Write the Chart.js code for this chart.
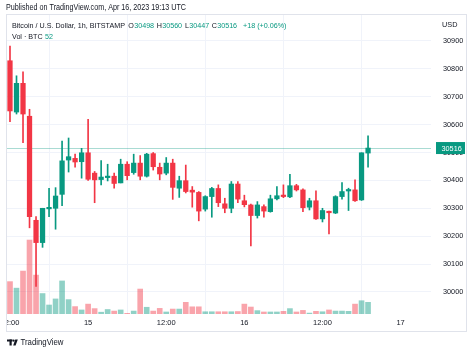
<!DOCTYPE html>
<html><head><meta charset="utf-8">
<script src="https://cdn.jsdelivr.net/npm/chart.js@4.4.0/dist/chart.umd.min.js"></script>
<style>html,body{margin:0;padding:0;background:#fff;}#wrap{width:474px;height:353px;position:relative;overflow:hidden}</style>
</head><body><div id="wrap"><canvas id="c" width="474" height="353"></canvas></div>
<script>
// ---- data (1h candles, Apr 14 12:00 -> Apr 16 19:00) ----
const timeTickIndex = [0, 12, 24, 36, 48, 60];
const timeTickLabels = ["12:00", "15", "12:00", "16", "12:00", "17"];
const priceTicks = [30000, 30100, 30200, 30300, 30400, 30500, 30600, 30700, 30800, 30900];
const opens  = [30829,30645,30748,30630,30257,30177,30298,30300,30350,30473,30479,30467,30499,30426,30403,30410,30415,30391,30458,30428,30462,30415,30496,30447,30426,30462,30372,30399,30365,30357,30297,30342,30371,30316,30300,30387,30327,30312,30274,30306,30288,30334,30345,30341,30381,30366,30304,30327,30262,30288,30283,30342,30362,30366,30330,30498];
const highs  = [30882,30775,30789,30655,30270,30300,30372,30374,30541,30552,30494,30515,30619,30432,30471,30458,30426,30476,30467,30494,30489,30497,30500,30462,30482,30476,30415,30455,30378,30360,30345,30375,30384,30336,30396,30396,30347,30315,30324,30312,30347,30378,30384,30422,30386,30370,30336,30363,30300,30290,30345,30392,30372,30402,30499,30560];
const lows   = [30611,30638,30535,30230,30020,30160,30270,30225,30309,30430,30447,30408,30400,30320,30384,30398,30372,30391,30402,30422,30402,30412,30437,30402,30420,30332,30339,30355,30304,30255,30290,30268,30306,30284,30284,30320,30305,30165,30265,30268,30286,30330,30338,30338,30362,30288,30294,30260,30251,30208,30281,30333,30292,30325,30328,30447];
const closes = [30649,30748,30638,30270,30177,30300,30302,30344,30470,30485,30466,30499,30404,30402,30412,30414,30389,30458,30417,30462,30415,30494,30449,30423,30462,30375,30399,30360,30358,30290,30342,30371,30320,30300,30387,30333,30313,30274,30312,30290,30334,30345,30342,30381,30366,30302,30327,30262,30292,30284,30342,30360,30366,30327,30499,30516];
const volumes = [144,115,191,329,173,91,40,67,147,64,33,18,44,24,8,20,13,18,3,13,111,30,13,25,9,22,22,52,32,32,10,10,10,10,10,11,44,31,15,9,9,9,12,24,9,16,4,12,10,18,13,13,12,44,59,52];
const lastPrice = 30516;
const headerText = "Published on TradingView.com, Apr 16, 2023 19:13 UTC";
const symbolText = "Bitcoin / U.S. Dollar, 1h, BITSTAMP";
const ohlcLetters = ["O","H","L","C"];
const ohlcValues = ["30498","30560","30447","30516"];
const changeText = "+18 (+0.06%)";
const volLabel = "Vol \u00B7 BTC";
const volValue = "52";

// ---- styles ----
const GREEN = '#089981', RED = '#F23645';
const GREEN_V = 'rgba(8,153,129,0.45)', RED_V = 'rgba(242,54,69,0.45)';
const TXT = '#131722';
const FONT = '"Liberation Sans", Arial, sans-serif';
const up = opens.map((o,i)=>closes[i]>=o);

// draw text at given font size, horizontally condensed by factor sx
function drawText(ctx, text, x, y, size, sx, color){
  ctx.save();
  ctx.font = size+'px '+FONT; ctx.fillStyle = color;
  ctx.translate(x, y); ctx.scale(sx, 1);
  ctx.fillText(text, 0, 0);
  const w = ctx.measureText(text).width*sx;
  ctx.restore();
  return w;
}
function factor(ctx, text, size, target){
  ctx.font = size+'px '+FONT;
  return target/ctx.measureText(text).width;
}

const overlay = {
  id:'overlay',
  beforeDatasetsDraw(chart){
    const {ctx, chartArea:a, scales:{y}} = chart;
    const py = Math.round(y.getPixelForValue(lastPrice))+0.5;
    ctx.save();
    ctx.strokeStyle='rgba(8,153,129,0.35)'; ctx.lineWidth=1;
    ctx.beginPath(); ctx.moveTo(a.left,py); ctx.lineTo(a.right,py); ctx.stroke();
    ctx.restore();
  },
  afterDraw(chart){
    const {ctx, chartArea:a, scales:{x,y}} = chart;
    ctx.save();
    ctx.textBaseline='middle'; ctx.textAlign='left';
    // panel border
    ctx.strokeStyle='#e0e3eb'; ctx.lineWidth=1;
    ctx.strokeRect(6.5,14.5,460,317);
    // price labels
    ctx.fillStyle=TXT; ctx.font='7.3px '+FONT;
    priceTicks.forEach(p=>{ ctx.fillText(String(p), 443, y.getPixelForValue(p)); });
    ctx.fillText('USD', 442, 25);
    // last price box
    const py = y.getPixelForValue(lastPrice);
    ctx.fillStyle=GREEN; ctx.fillRect(436, py-6, 29, 12);
    ctx.fillStyle='#fff'; ctx.font='7.3px '+FONT; ctx.fillText(String(lastPrice), 441.5, py+0.5);
    // time labels (clipped to panel)
    ctx.save();
    ctx.beginPath(); ctx.rect(7,315,420,16); ctx.clip();
    ctx.fillStyle=TXT; ctx.font='7.5px '+FONT; ctx.textAlign='center';
    timeTickIndex.forEach((v,k)=>{ ctx.fillText(timeTickLabels[k], x.getPixelForValue(v), 322.5); });
    ctx.restore();
    // header
    const hs = 8.2;
    drawText(ctx, headerText, 6, 8, hs, factor(ctx, headerText, hs, 180), TXT);
    // legend line 1
    const ls = 8;
    const f = factor(ctx, symbolText, ls, 113);
    drawText(ctx, symbolText, 12, 25.5, ls, f, TXT);
    const ox=[128.3,156.7,185,211.7];
    ohlcLetters.forEach((L,k)=>{
      const w = drawText(ctx, L, ox[k], 25.5, ls, f, TXT);
      drawText(ctx, ohlcValues[k], ox[k]+w+0.3, 25.5, ls, f, GREEN);
    });
    drawText(ctx, changeText, 243, 25.5, ls, f, GREEN);
    // legend line 2
    drawText(ctx, volLabel, 12, 36.5, ls, f, TXT);
    drawText(ctx, volValue, 45, 36.5, ls, f, GREEN);
    // TradingView logo
    ctx.fillStyle=TXT;
    ctx.fillRect(7,339.5,5.5,2); ctx.fillRect(9.5,339.5,2.2,6);
    ctx.beginPath(); ctx.arc(13.6,340.6,1.1,0,Math.PI*2); ctx.fill();
    ctx.beginPath(); ctx.moveTo(15.2,339.5); ctx.lineTo(17.8,339.5); ctx.lineTo(15.6,345.5); ctx.lineTo(13.2,345.5); ctx.closePath(); ctx.fill();
    drawText(ctx, 'TradingView', 20.5, 343, 9, factor(ctx,'TradingView',9,43), TXT);
    ctx.restore();
  }
};

new Chart(document.getElementById('c'), {
  type:'bar',
  data:{ datasets:[
    { label:'Volume', yAxisID:'yVol', data: volumes.map((v,i)=>({x:i,y:v})),
      backgroundColor: up.map(u=>u?GREEN_V:RED_V), barThickness:5, grouped:false, order:3 },
    { label:'Wick', yAxisID:'y', data: lows.map((l,i)=>({x:i,y:[l,highs[i]]})),
      backgroundColor: up.map(u=>u?GREEN:RED), barThickness:1, grouped:false, order:2 },
    { label:'Body', yAxisID:'y', data: opens.map((o,i)=>({x:i,y:[o,closes[i]]})),
      backgroundColor: up.map(u=>u?GREEN:RED), barThickness:4.6, minBarLength:1.5, grouped:false, order:1 }
  ]},
  options:{
    responsive:false, animation:false, devicePixelRatio:1,
    layout:{padding:{left:7, top:15, right:43, bottom:39}},
    plugins:{legend:{display:false}, tooltip:{enabled:false}},
    scales:{
      x:{type:'linear', min:-0.46, max:64.67, offset:false,
         grid:{color:'#f0f3fa', drawTicks:false}, border:{display:false},
         ticks:{display:false, stepSize:12, includeBounds:false}},
      y:{type:'linear', position:'right', min:29921, max:30993,
         grid:{color:'#f0f3fa', drawTicks:false}, border:{display:false},
         ticks:{display:false, stepSize:100, includeBounds:false}},
      yVol:{type:'linear', display:false, min:0, max:1330}
    }
  },
  plugins:[overlay]
});
</script></body></html>
